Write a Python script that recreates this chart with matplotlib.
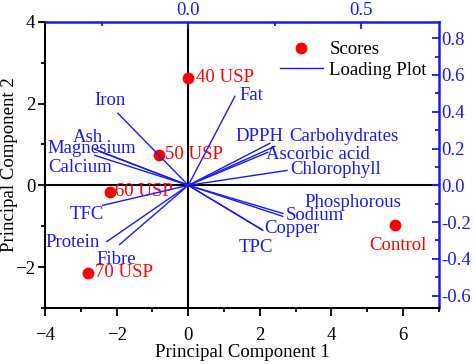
import numpy as np
import matplotlib
matplotlib.use("Agg")
import matplotlib.pyplot as plt
from matplotlib.ticker import MultipleLocator, FormatStrFormatter

plt.rcParams['font.family'] = ['Liberation Serif', 'DejaVu Serif']

# --------------- Scores (PC1, PC2) ---------------
score_names = ['40 USP', '50 USP', '60 USP', '70 USP', 'Control']
score_pc1 = [-0.02, -0.82, -2.19, -2.80, 5.76]
score_pc2 = [2.63, 0.75, -0.16, -2.14, -0.97]

# --------------- Loadings ---------------
load_names = ['Iron', 'Fat', 'Ash', 'Magnesium', 'Calcium', 'DPPH', 'Carbohydrates',
              'Ascorbic acid', 'Chlorophyll', 'Phosphorous', 'Sodium', 'Copper',
              'TPC', 'TFC', 'Protein', 'Fibre']
load_pc1 = [-0.204, 0.135, -0.271, -0.259, -0.271, 0.236, 0.251,
            0.230, 0.286, 0.274, 0.274, 0.216, 0.213, -0.248, -0.236, -0.199]
load_pc2 = [0.392, 0.484, 0.196, 0.185, 0.163, 0.228, 0.212,
            0.179, 0.081, -0.153, -0.169, -0.245, -0.240, -0.109, -0.306, -0.322]

# label offsets (pixels) from line ends / points
load_offsets = {'Iron': (-8, 13), 'Fat': (16, 1), 'Ash': (-7, 12), 'Magnesium': (-7, 3),
                'Calcium': (-15, -12), 'DPPH': (-10, 7), 'Carbohydrates': (69, 10),
                'Ascorbic acid': (50, -2), 'Chlorophyll': (49, 1), 'Phosphorous': (70, 11),
                'Sodium': (32, 1), 'Copper': (29, 2), 'TPC': (-6, -18),
                'TFC': (-16, -9), 'Protein': (-34, -1), 'Fibre': (-3, -15)}
score_offsets = {'40 USP': (8, 0, 'left'), '50 USP': (6, 0, 'left'), '60 USP': (5, 0, 'left'),
                 '70 USP': (7, 0, 'left'), 'Control': (3, -21, 'center')}

BLUE = '#1a1aee'
RED = '#ff0000'
FS = 13.5

fig = plt.figure(figsize=(4.74, 3.64), dpi=100)
rect = [0.095, 0.154, 0.831, 0.786]
ax = fig.add_axes(rect)
axl = fig.add_axes(rect, frameon=False)

# scores on bottom/left axes
ax.axhline(0, color='black', lw=1.5, zorder=1)
ax.axvline(0, color='black', lw=1.5, zorder=1)
ax.plot(score_pc1, score_pc2, 'o', color=RED, ms=7.5, ls='none', label='Scores', zorder=4)
for n, x, y in zip(score_names, score_pc1, score_pc2):
    dx, dy, ha = score_offsets[n]
    ax.annotate(n, (x, y), xytext=(dx, dy), textcoords='offset pixels', ha=ha,
                va='center', color=RED, fontsize=FS)
ax.set_xlim(-4, 7)
ax.set_ylim(-3, 4)
ax.xaxis.set_major_locator(MultipleLocator(2))
ax.xaxis.set_minor_locator(MultipleLocator(1))
ax.yaxis.set_major_locator(MultipleLocator(2))
ax.yaxis.set_minor_locator(MultipleLocator(1))
ax.tick_params(which='both', direction='out', labelsize=FS, width=1.3)
ax.tick_params(which='major', length=5)
ax.tick_params(which='minor', length=3)
ax.tick_params(axis='x', which='major', length=6, pad=8)
ax.tick_params(axis='y', which='major', pad=2)
ax.set_xlabel('Principal Component 1', fontsize=FS, labelpad=0)
ax.set_ylabel('Principal Component 2', fontsize=FS)
ax.yaxis.set_label_coords(-0.068, 0.5)
for s in ['left', 'bottom']:
    ax.spines[s].set_linewidth(1.5)
for s in ['top', 'right']:
    ax.spines[s].set_color(BLUE)
    ax.spines[s].set_linewidth(1.8)

# loadings on top/right axes
for i, (n, x, y) in enumerate(zip(load_names, load_pc1, load_pc2)):
    axl.plot([0, x], [0, y], color=BLUE, lw=1.0, label='Loading Plot' if i == 0 else None)
    dx, dy = load_offsets[n]
    axl.annotate(n, (x, y), xytext=(dx, dy), textcoords='offset pixels', ha='center',
                 va='center', color=BLUE, fontsize=FS)
axl.set_xlim(-0.415, 0.726)
axl.set_ylim(-0.667, 0.889)
axl.xaxis.tick_top()
axl.yaxis.tick_right()
axl.xaxis.set_major_locator(MultipleLocator(0.5))
axl.xaxis.set_minor_locator(MultipleLocator(0.25))
axl.yaxis.set_major_locator(MultipleLocator(0.2))
axl.yaxis.set_minor_locator(MultipleLocator(0.1))
axl.tick_params(which='both', direction='in', colors=BLUE, labelsize=FS, width=1.3, pad=2)
axl.tick_params(which='major', length=5)
axl.tick_params(which='minor', length=3)
axl.xaxis.set_major_formatter(FormatStrFormatter('%.1f'))
axl.yaxis.set_major_formatter(FormatStrFormatter('%.1f'))

h1, l1 = ax.get_legend_handles_labels()
h2, l2 = axl.get_legend_handles_labels()
axl.legend(h1 + h2, l1 + l2, loc='upper left', frameon=False, fontsize=FS,
           bbox_to_anchor=(0.596, 0.933), handlelength=2.3, labelspacing=0.2,
           handletextpad=0.35, borderaxespad=0, borderpad=0)

fig.savefig('out.png', dpi=100)
